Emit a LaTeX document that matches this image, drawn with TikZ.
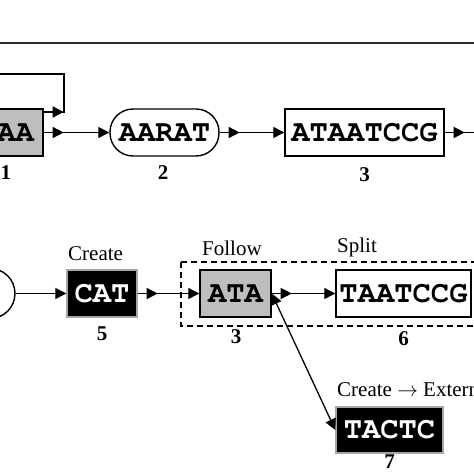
\documentclass[tikz,border=0pt]{standalone}
\usepackage{fontspec}
\setmainfont{Liberation Serif}
\newfontfamily\seqfont{texgyrecursor-bold.otf}
\usetikzlibrary{arrows.meta,decorations.markings}

\definecolor{boxgrey}{RGB}{190,190,190}
\definecolor{edgegrey}{RGB}{165,165,165}
\definecolor{rulegrey}{RGB}{45,45,45}

\tikzset{
  seq/.style={draw, line width=1.4pt, minimum height=47pt, inner sep=0pt,
    font=\seqfont\fontsize{30.5}{30.5}\selectfont},
  greybox/.style={seq, fill=boxgrey},
  whitebox/.style={seq, fill=white},
  blackbox/.style={seq, fill=black, draw=edgegrey, text=white},
  roundbox/.style={seq, fill=white, rounded corners=23pt},
  idx/.style={inner sep=0pt, font=\bfseries\fontsize{21}{21}\selectfont},
  op/.style={anchor=base west, inner sep=0pt, font=\fontsize{21}{21}\selectfont},
  tip/.tip={Triangle[length=11pt,width=11pt]},
  link/.style={line width=1.3pt},
  plainarrow/.style={link, -tip},
  both/.style={link, tip-tip},
  flow/.style={link, -tip, postaction={decorate},
    decoration={markings, mark=at position 20pt with {\arrow{tip}}}},
  group/.style={line width=1.3pt, dash pattern=on 6pt off 4pt},
}

\begin{document}
\begin{tikzpicture}[x=1pt, y=-1pt]
  \useasboundingbox (0,0) rectangle (474,474);
  \clip (0,0) rectangle (474,474);

  % header rule
  \coordinate (ruleL) at (-5,43);
  \coordinate (ruleR) at (480,43);
  \draw[line width=1.4pt, rulegrey] (ruleL) -- (ruleR);

  % upper chain
  \node[greybox, minimum width=73pt] (aa) at (6.5,132.5) {\hphantom{A}AA};
  \node[roundbox, minimum width=109pt] (aarat) at (164.5,132.5) {AARAT};
  \node[whitebox, minimum width=159pt] (ataatccg) at (364.5,132.5) {ATAATCCG};

  \node[idx] (n1) at (6,173) {1};
  \node[idx] (n2) at (163,173) {2};
  \node[idx] (n3) at (364.5,175) {3};

  \coordinate (loopturn) at (64,112);
  \coordinate (loopback) at (-60,74);
  \coordinate (out1) at (520,132.5);
  \draw[flow] (aa.east |- loopturn) -- (loopturn) |- (loopback);
  \draw[flow] (aa) -- (aarat);
  \draw[flow] (aarat) -- (ataatccg);
  \draw[flow] (ataatccg) -- (out1);

  % lower chain
  \draw[group] (181,262) rectangle (500,326);

  \node[draw, circle, line width=1.4pt, minimum size=50pt] (src) at (-10,293.5) {};
  \node[blackbox, minimum width=70pt] (cat) at (102,293.5) {CAT};
  \node[greybox, minimum width=71pt] (ata) at (235.5,293.5) {ATA};
  \node[whitebox, minimum width=135pt] (taatccg) at (403.5,293.5) {TAATCCG};
  \node[blackbox, minimum width=107pt, minimum height=46pt] (tactc) at (389.5,430) {TACTC};

  \node[op] (lcreate) at (68,260) {Create};
  \node[op] (lfollow) at (202,255) {Follow};
  \node[op] (lsplit) at (337,252) {Split};
  \node[op] (lext) at (337,396) {Create $\rightarrow$ External};

  \node[idx] (n5) at (102,334) {5};
  \node[idx] (n3b) at (236,337) {3};
  \node[idx] (n6) at (403.5,339) {6};
  \node[idx] (n7) at (389.5,462) {7};

  \draw[plainarrow] (src) -- (cat);
  \draw[flow] (cat) -- (ata);
  \draw[flow] (ata) -- (taatccg);
  \draw[both] (ata.east) -- (tactc.west);
\end{tikzpicture}
\end{document}
